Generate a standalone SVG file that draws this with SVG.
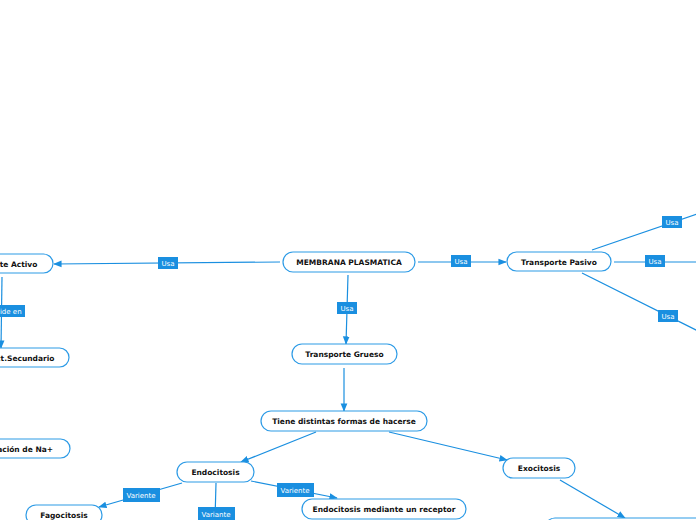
<svg xmlns="http://www.w3.org/2000/svg" width="696" height="520" viewBox="0 0 696 520">
<style>
.n rect{fill:#fff;stroke:#2d9be6;stroke-width:1.2}
.n text{font-family:"DejaVu Sans",Verdana,sans-serif;font-weight:bold;font-size:7.5px;fill:#111;text-anchor:middle}
.c line{stroke:#1a8fe0;stroke-width:1.2}
.l rect{fill:#1a8fe0}
.l text{font-family:"DejaVu Sans",Verdana,sans-serif;font-size:7px;fill:#fff;text-anchor:middle}
</style>
<defs><marker id="a" viewBox="0 0 10 10" refX="9" refY="5" markerWidth="7" markerHeight="7" orient="auto"><path d="M0,1 L10,5 L0,9 z" fill="#1a8fe0"/></marker></defs>
<rect width="696" height="520" fill="#fff"/>
<g id="connectors" class="c">
<line x1="280" y1="262" x2="54" y2="264" marker-end="url(#a)"/>
<line x1="418" y1="262" x2="506" y2="262" marker-end="url(#a)"/>
<line x1="348" y1="275" x2="346" y2="344" marker-end="url(#a)"/>
<line x1="344" y1="368" x2="344" y2="411" marker-end="url(#a)"/>
<line x1="316" y1="432" x2="241" y2="462" marker-end="url(#a)"/>
<line x1="389" y1="432" x2="507" y2="460" marker-end="url(#a)"/>
<line x1="560" y1="480" x2="625" y2="518" marker-end="url(#a)"/>
<line x1="182" y1="483" x2="99" y2="507" marker-end="url(#a)"/>
<line x1="216" y1="483" x2="215" y2="520"/>
<line x1="251" y1="481" x2="337" y2="498" marker-end="url(#a)"/>
<line x1="2" y1="277" x2="1" y2="348" marker-end="url(#a)"/>
<line x1="592" y1="250" x2="700" y2="213"/>
<line x1="614" y1="262" x2="700" y2="262"/>
<line x1="582" y1="273" x2="700" y2="332"/>
</g>
<g class="l">
<rect x="158" y="257" width="20" height="12"/><text x="168" y="265.5">Usa</text>
<rect x="451" y="255" width="20" height="12"/><text x="461" y="263.5">Usa</text>
<rect x="337" y="302" width="20" height="12"/><text x="347" y="310.5">Usa</text>
<rect x="-15" y="305" width="40" height="12"/><text x="5" y="313.5">Divide en</text>
<rect x="123" y="488" width="37" height="14"/><text x="141" y="497.5">Variente</text>
<rect x="277" y="483" width="37" height="14"/><text x="295" y="492.5">Variente</text>
<rect x="198" y="507" width="37" height="14"/><text x="216" y="516.5">Variante</text>
<rect x="662" y="216" width="20" height="12"/><text x="672" y="224.5">Usa</text>
<rect x="645" y="255" width="20" height="12"/><text x="655" y="263.5">Usa</text>
<rect x="658" y="310" width="20" height="12"/><text x="668" y="318.5">Usa</text>
</g>
<g id="membrana" class="n"><rect x="283" y="252" width="132" height="20" rx="10"/><text x="349" y="265">MEMBRANA PLASMATICA</text></g>
<g id="pasivo" class="n"><rect x="507" y="252" width="104" height="19" rx="9.5"/><text x="559" y="264.5">Transporte Pasivo</text></g>
<g id="activo" class="n"><rect x="-60" y="254" width="113" height="19" rx="9.5"/><text x="0" y="266.5">Transporte Activo</text></g>
<g id="grueso" class="n"><rect x="292" y="344" width="105" height="20" rx="10"/><text x="344.5" y="357">Transporte Grueso</text></g>
<g id="tiene" class="n"><rect x="261" y="411" width="166" height="20" rx="10"/><text x="344" y="424">Tiene distintas formas de hacerse</text></g>
<g id="endocitosis" class="n"><rect x="177" y="462" width="77" height="20" rx="10"/><text x="215.5" y="475">Endocitosis</text></g>
<g id="exocitosis" class="n"><rect x="503" y="458" width="72" height="20" rx="10"/><text x="539" y="471">Exocitosis</text></g>
<g id="receptor" class="n"><rect x="302" y="499" width="164" height="20" rx="10"/><text x="384" y="512">Endocitosis mediante un receptor</text></g>
<g id="fagocitosis" class="n"><rect x="26" y="505" width="76" height="20" rx="10"/><text x="64" y="518">Fagocitosis</text></g>
<g id="secundario" class="n"><rect x="-40" y="348" width="109" height="19" rx="9.5"/><text x="17.5" y="360.5">Tr.Act.Secundario</text></g>
<g id="na" class="n"><rect x="-70" y="439" width="140" height="19" rx="9.5"/><text x="6" y="451.5">Concentración de Na+</text></g>
<g id="bottom" class="n"><rect x="545" y="518" width="170" height="20" rx="10"/></g>
</svg>
